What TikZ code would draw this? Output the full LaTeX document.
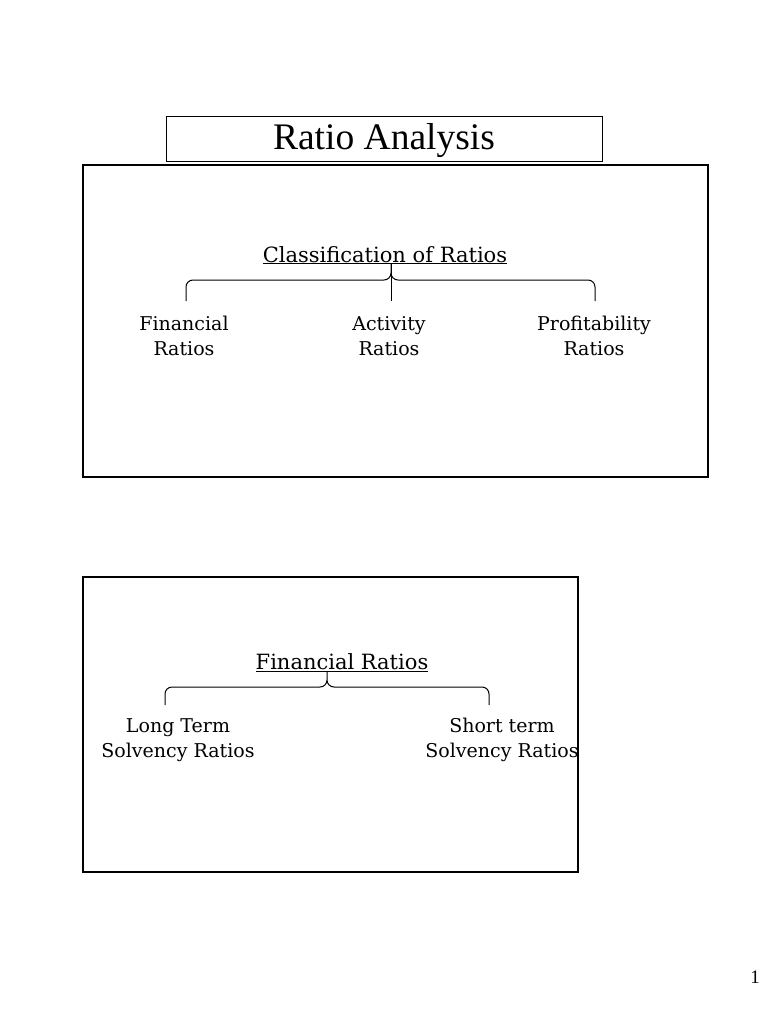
\documentclass[tikz,border=0pt]{standalone}
\usepackage{fontspec}
\setmainfont{DejaVu Serif}
\newfontfamily\titlefont{Liberation Serif}
\usetikzlibrary{positioning}

\begin{document}
\begin{tikzpicture}[x=1pt, y=-1pt,
    panel/.style={draw, line width=1.3pt},
    titlebox/.style={draw, line width=0.9pt, minimum width=436pt, minimum height=45pt,
        text height=29pt, text depth=6pt, font=\titlefont\fontsize{37.5}{40}\selectfont},
    head/.style={anchor=base, font=\fontsize{21}{25}\selectfont},
    item/.style={anchor=base, align=center, font=\fontsize{19}{24.5}\selectfont},
    brace/.style={draw, line width=1pt, rounded corners=7pt}]
    \useasboundingbox (0,0) rectangle (768,1024);

    \node[titlebox] (title) at (384,138.5) {Ratio Analysis};

    % first panel
    \draw[panel] (83,165) rectangle (708,477);
    \node[head] (cls) at (385,262) {\underline{Classification of Ratios}};
    % base anchor sits on the last line
    \node[item] (fin) at (184,355) {Financial\\Ratios};
    \node[item] (act) at (389,355) {Activity\\Ratios};
    \node[item] (prof) at (594,355) {Profitability\\Ratios};

    \coordinate (cls tip) at (391,263);
    \coordinate (cls mid) at (391,280);
    \coordinate (fin end) at (186,301);
    \coordinate (act end) at (391,301);
    \coordinate (prof end) at (595,301);
    \path[brace]
        (fin end) |- (cls mid) -- (cls tip)
        (cls tip) -- (cls mid) -| (prof end);
    \draw[line width=1pt] (cls tip) -- (act end);

    % second panel
    \draw[panel] (83,577) rectangle (578,872);
    \node[head] (finr) at (342,669) {\underline{Financial Ratios}};
    \node[item] (long) at (178,757) {Long Term\\Solvency Ratios};
    \node[item] (short) at (502,757) {Short term\\Solvency Ratios};

    \coordinate (finr tip) at (327,671);
    \coordinate (finr mid) at (327,687);
    \coordinate (long end) at (165,705);
    \coordinate (short end) at (489,705);
    \path[brace]
        (long end) |- (finr mid) -- (finr tip)
        (finr tip) -- (finr mid) -| (short end);

    \node[anchor=base, font=\titlefont\fontsize{19}{22}\selectfont] (page) at (755,983) {1};
\end{tikzpicture}
\end{document}
